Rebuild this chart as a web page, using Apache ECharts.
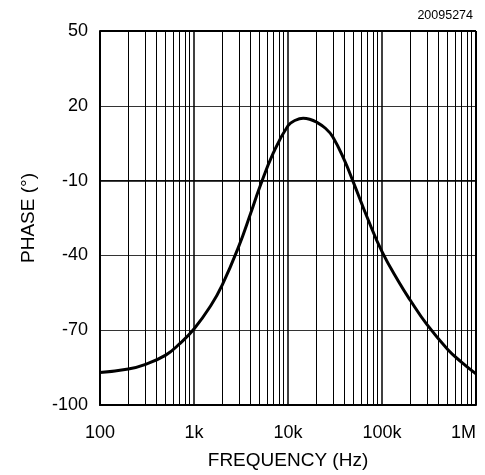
<!DOCTYPE html>
<html>
<head>
<meta charset="utf-8">
<script src="https://cdn.jsdelivr.net/npm/echarts@6/dist/echarts.min.js"></script>
<style>html,body{margin:0;padding:0;background:#fff}#c{width:485px;height:475px}</style>
</head>
<body>
<div id="c"></div>
<script>
var freqs = [100, 200, 300, 500, 700, 1000, 1500, 2000, 3000, 4000, 5000, 7000, 10000, 12000, 14500, 17000, 20000, 25000, 30000, 40000, 50000, 70000, 100000, 150000, 200000, 300000, 500000, 700000, 1000000];
var phase = [-87, -85.6, -83.8, -80, -75.5, -69.5, -60.3, -51.8, -36.3, -23.2, -12.7, 1.2, 12, 14.2, 15, 14.6, 13.5, 11, 7.5, -2, -11, -25, -38.5, -50.5, -58, -67.7, -77.7, -82.8, -87.5];
var xTickLabels = {100: '100', 1000: '1k', 10000: '10k', 100000: '100k', 1000000: '1M'};
var minorLines = [];
[100, 1000, 10000, 100000].forEach(function (d) {
  for (var k = 2; k <= 9; k++) minorLines.push(d * k);
});

var chart = echarts.init(document.getElementById('c'));
var font = 'Liberation Sans, Arial, sans-serif';
chart.setOption({
  animation: false,
  title: {
    text: '20095274', right: 7, top: 4,
    textStyle: {fontFamily: font, fontSize: 12.5, fontWeight: 'normal', color: '#000'}
  },
  grid: {left: 100, right: 9, top: 31, bottom: 70},
  xAxis: {
    type: 'log', logBase: 10, min: 100, max: 1000000,
    name: 'FREQUENCY (Hz)', nameLocation: 'middle', nameGap: 46,
    nameTextStyle: {fontFamily: font, fontSize: 19, color: '#000'},
    axisLine: {show: true, onZero: false, lineStyle: {color: '#000', width: 2}},
    axisTick: {show: false},
    axisLabel: {
      fontFamily: font, fontSize: 18, color: '#000', margin: 19, alignMaxLabel: 'right',
      formatter: function (v) { return xTickLabels[Math.round(v)] || ''; }
    },
    splitLine: {show: true, lineStyle: {color: '#000', width: 1.5}}
  },
  yAxis: {
    type: 'value', min: -100, max: 50, interval: 30,
    name: 'PHASE (°)', nameLocation: 'middle', nameGap: 62,
    nameTextStyle: {fontFamily: font, fontSize: 19, color: '#000'},
    axisLine: {show: true, onZero: false, lineStyle: {color: '#000', width: 2}},
    axisTick: {show: false},
    axisLabel: {fontFamily: font, fontSize: 18, color: '#000', margin: 12},
    splitLine: {show: true, lineStyle: {color: '#333', width: 1}}
  },
  series: [
    {
      type: 'line', data: [], silent: true,
      markLine: {
        silent: true, symbol: ['none', 'none'], animation: false,
        label: {show: false},
        lineStyle: {color: '#000', width: 1, type: 'solid'},
        data: minorLines.map(function (v) { return {xAxis: v}; })
      }
    },
    {
      type: 'line', data: [], silent: true,
      markLine: {
        silent: true, symbol: ['none', 'none'], animation: false,
        label: {show: false},
        lineStyle: {color: '#000', width: 2, type: 'solid'},
        data: [{xAxis: 1000000}, {yAxis: 50}, {yAxis: -10, lineStyle: {width: 1.6}}]
      }
    },
    {
      type: 'line', smooth: 0.45, showSymbol: false,
      lineStyle: {color: '#000', width: 3},
      data: freqs.map(function (f, i) { return [f, phase[i]]; }),
      z: 5
    }
  ]
});
</script>
</body>
</html>
